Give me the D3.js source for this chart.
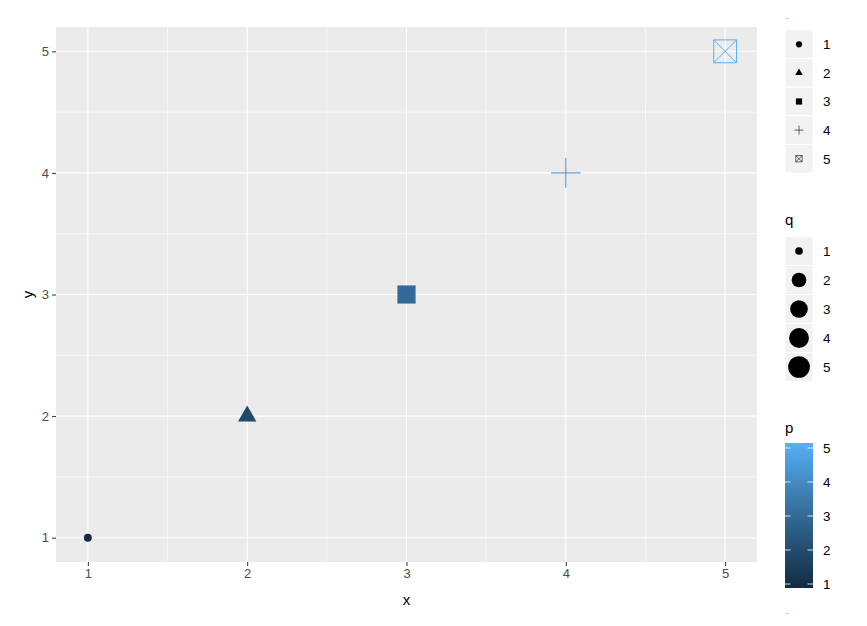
<!DOCTYPE html>
<html>
<head>
<meta charset="utf-8">
<script src="https://cdn.jsdelivr.net/npm/d3@7"></script>
<style>
  body { margin: 0; background: #fff; }
  text { font-family: "Liberation Sans", Arial, sans-serif; }
</style>
</head>
<body>
<div id="root"></div>
<script>
// data
const xVals = [1, 2, 3, 4, 5];
const yVals = [1, 2, 3, 4, 5];
const shapeCats = ['1', '2', '3', '4', '5'];
const pVals = [1, 2, 3, 4, 5];
const qVals = [1, 2, 3, 4, 5];
const xTicks = [1, 2, 3, 4, 5];
const yTicks = [1, 2, 3, 4, 5];
const pTicks = [1, 2, 3, 4, 5];

const width = 867, height = 626;
const panel = {left: 56, right: 757, top: 27, bottom: 562};

const svg = d3.select('#root').append('svg')
  .attr('width', width)
  .attr('height', height);

const x = d3.scaleLinear().domain([0.8, 5.2]).range([panel.left, panel.right]);
const y = d3.scaleLinear().domain([0.8, 5.2]).range([panel.bottom, panel.top]);

const color = d3.scaleLinear().domain([1, 5])
  .range(['#132B43', '#56B1F7'])
  .interpolate(d3.interpolateLab);

// ggplot-like area size scale, then size -> radius in px
const sizeOf = q => 1 + 5 * Math.sqrt((q - 1) / 4);
const radius = q => 1.45 * sizeOf(q) + 2.5;

const shapeNames = ['circle', 'triangle', 'square', 'plus', 'boxx'];
const shapeScale = d3.scaleOrdinal().domain(shapeCats).range(shapeNames);

function shapePath(name, r) {
  const p = d3.path();
  if (name === 'circle') {
    p.arc(0, 0, r, 0, 2 * Math.PI);
  } else if (name === 'triangle') {
    const R = r * 1.4;
    p.moveTo(0, -R);
    p.lineTo(R * Math.sin(Math.PI / 3), R / 2);
    p.lineTo(-R * Math.sin(Math.PI / 3), R / 2);
    p.closePath();
  } else if (name === 'square') {
    p.rect(-r, -r, 2 * r, 2 * r);
  } else if (name === 'plus') {
    const h = r * 1.45;
    p.moveTo(-h, 0); p.lineTo(h, 0);
    p.moveTo(0, -h); p.lineTo(0, h);
  } else {
    const h = r * 1.02;
    p.rect(-h, -h, 2 * h, 2 * h);
    p.moveTo(-h, -h); p.lineTo(h, h);
    p.moveTo(h, -h); p.lineTo(-h, h);
  }
  return p.toString();
}
const filled = name => name === 'circle' || name === 'triangle' || name === 'square';

// panel
svg.append('rect')
  .attr('x', panel.left).attr('y', panel.top)
  .attr('width', panel.right - panel.left)
  .attr('height', panel.bottom - panel.top)
  .attr('fill', '#EBEBEB');

const minorX = [1.5, 2.5, 3.5, 4.5];
const grid = svg.append('g');
grid.selectAll('.minx').data(minorX).enter().append('line')
  .attr('x1', d => x(d)).attr('x2', d => x(d))
  .attr('y1', panel.top).attr('y2', panel.bottom)
  .attr('stroke', '#fff').attr('stroke-width', 0.55);
grid.selectAll('.miny').data(minorX).enter().append('line')
  .attr('y1', d => y(d)).attr('y2', d => y(d))
  .attr('x1', panel.left).attr('x2', panel.right)
  .attr('stroke', '#fff').attr('stroke-width', 0.55);
grid.selectAll('.majx').data(xTicks).enter().append('line')
  .attr('x1', d => x(d)).attr('x2', d => x(d))
  .attr('y1', panel.top).attr('y2', panel.bottom)
  .attr('stroke', '#fff').attr('stroke-width', 1.1);
grid.selectAll('.majy').data(yTicks).enter().append('line')
  .attr('y1', d => y(d)).attr('y2', d => y(d))
  .attr('x1', panel.left).attr('x2', panel.right)
  .attr('stroke', '#fff').attr('stroke-width', 1.1);

// axes
const xAxis = svg.append('g')
  .attr('transform', `translate(0,${panel.bottom})`)
  .call(d3.axisBottom(x).tickValues(xTicks).tickSize(4).tickPadding(3).tickFormat(d3.format('d')));
const yAxis = svg.append('g')
  .attr('transform', `translate(${panel.left},0)`)
  .call(d3.axisLeft(y).tickValues(yTicks).tickSize(4).tickPadding(3).tickFormat(d3.format('d')));
[xAxis, yAxis].forEach(a => {
  a.select('.domain').remove();
  a.selectAll('line').attr('stroke', '#333').attr('stroke-width', 1);
  a.selectAll('text').attr('fill', '#4D4D4D').style('font-size', '13px');
});

svg.append('text').text('x')
  .attr('x', (panel.left + panel.right) / 2).attr('y', 605)
  .attr('text-anchor', 'middle').style('font-size', '15px');
svg.append('text').text('y')
  .attr('transform', `translate(33,${(panel.top + panel.bottom) / 2}) rotate(-90)`)
  .attr('text-anchor', 'middle').style('font-size', '15px');

// points
const pts = xVals.map((d, i) => ({x: d, y: yVals[i], s: shapeCats[i], p: pVals[i], q: qVals[i]}));
svg.append('g').selectAll('path').data(pts).enter().append('path')
  .attr('transform', d => `translate(${x(d.x)},${y(d.y)})`)
  .attr('d', d => shapePath(shapeScale(d.s), radius(d.q)))
  .attr('fill', d => filled(shapeScale(d.s)) ? color(d.p) : 'none')
  .attr('stroke', d => filled(shapeScale(d.s)) ? 'none' : color(d.p))
  .attr('stroke-width', 1);

// legends
const keyX = 785, keyW = 28;

// shape legend
svg.append('text').text('.')
  .attr('x', 786).attr('y', 19).attr('fill', '#555').style('font-size', '9px');
const shapeKeys = svg.append('g').selectAll('g').data(shapeCats).enter().append('g')
  .attr('transform', (d, i) => `translate(${keyX},${30 + i * 28.6})`);
shapeKeys.append('rect')
  .attr('width', keyW).attr('height', 28.6)
  .attr('fill', '#F2F2F2').attr('stroke', '#fff').attr('stroke-width', 1);
shapeKeys.append('path')
  .attr('transform', `translate(${keyW / 2},14.3)`)
  .attr('d', d => shapePath(shapeScale(d), 3.1))
  .attr('fill', d => filled(shapeScale(d)) ? '#000' : 'none')
  .attr('stroke', d => filled(shapeScale(d)) ? 'none' : '#000')
  .attr('stroke-width', 0.6);
shapeKeys.append('text').text(d => d)
  .attr('x', 38).attr('y', 14.3).attr('dy', '0.36em')
  .style('font-size', '13.5px');

// size legend
svg.append('text').text('q')
  .attr('x', keyX).attr('y', 225).style('font-size', '15px');
const qKeys = svg.append('g').selectAll('g').data(qVals).enter().append('g')
  .attr('transform', (d, i) => `translate(${keyX},${236.5 + i * 29})`);
qKeys.append('rect')
  .attr('width', keyW).attr('height', 29)
  .attr('fill', '#F2F2F2').attr('stroke', '#fff').attr('stroke-width', 1);
qKeys.append('circle')
  .attr('cx', keyW / 2).attr('cy', 14.5)
  .attr('r', d => radius(d) * 0.97)
  .attr('fill', '#000');
qKeys.append('text').text(d => d)
  .attr('x', 38).attr('y', 14.5).attr('dy', '0.36em')
  .style('font-size', '13.5px');

// colour bar
svg.append('text').text('p')
  .attr('x', keyX).attr('y', 433).style('font-size', '15px');
const pBar = d3.scaleLinear().domain([1, 5]).range([584, 448]);
const defs = svg.append('defs');
const grad = defs.append('linearGradient').attr('id', 'pgrad')
  .attr('x1', 0).attr('y1', 1).attr('x2', 0).attr('y2', 0);
d3.range(0, 1.0001, 0.1).forEach(t => {
  grad.append('stop').attr('offset', t).attr('stop-color', color(1 + 4 * t));
});
const barTop = pBar(5) - 5, barBot = pBar(1) + 4;
svg.append('rect')
  .attr('x', keyX).attr('y', barTop)
  .attr('width', keyW).attr('height', barBot - barTop)
  .attr('fill', 'url(#pgrad)');
const pT = svg.append('g').selectAll('g').data(pTicks).enter().append('g')
  .attr('transform', d => `translate(${keyX},${pBar(d)})`);
pT.append('line').attr('x1', 0).attr('x2', 5.5)
  .attr('stroke', '#fff').attr('stroke-width', 0.8);
pT.append('line').attr('x1', keyW - 5.5).attr('x2', keyW)
  .attr('stroke', '#fff').attr('stroke-width', 0.8);
pT.append('text').text(d => d)
  .attr('x', 38).attr('dy', '0.36em')
  .style('font-size', '13.5px');

svg.append('text').text('.')
  .attr('x', 786).attr('y', 614).attr('fill', '#555').style('font-size', '9px');
</script>
</body>
</html>
